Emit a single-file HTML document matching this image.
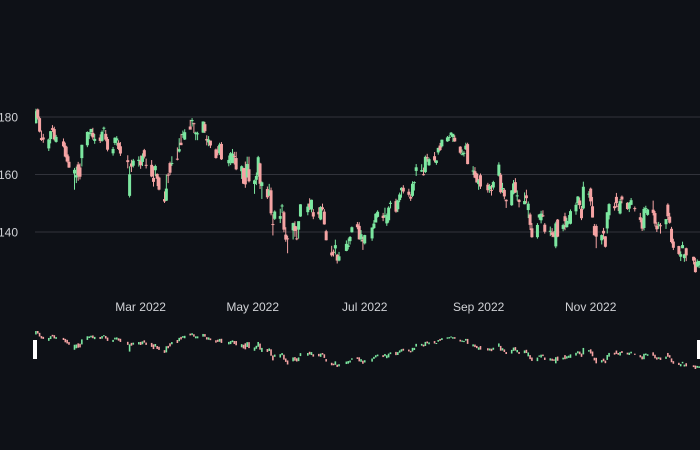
<!DOCTYPE html>
<html><head><meta charset="utf-8">
<style>
html,body{margin:0;padding:0;background:#0e1117;}
svg{display:block;font-family:"Liberation Sans",sans-serif;}
</style></head>
<body>
<svg id="chart" width="700" height="450" viewBox="0 0 700 450" xmlns="http://www.w3.org/2000/svg">
<rect x="0" y="0" width="700" height="450" fill="#0e1117"/>
<defs><clipPath id="plotclip"><rect x="35" y="95" width="665" height="200"/></clipPath></defs>
<g id="grid"></g>
<g id="yticks"></g>
<g id="xticks"></g>
<g id="candles" clip-path="url(#plotclip)"></g>
<g id="slider"></g>
</svg>
<script>
const holidays=["2022-01-17","2022-02-21","2022-04-15","2022-05-30","2022-06-20","2022-07-04","2022-09-05","2022-11-24","2022-12-26"];
const yTickValues=[140,160,180];
const xTickLabels=["Mar 2022","May 2022","Jul 2022","Sep 2022","Nov 2022"];
const xTickDates=["2022-03-01","2022-05-01","2022-07-01","2022-09-01","2022-11-01"];
const opens=[177.83,182.63,179.61,172.70,172.89,169.08,172.32,176.12,175.78,171.34,171.51,170.00,166.98,164.42,160.34,158.98,163.50,162.45,165.71,170.16,
174.01,174.75,174.48,171.68,172.86,171.73,176.05,174.14,172.33,167.37,170.97,171.85,171.03,169.82,164.98,152.58,163.84,163.06,164.70,
164.70,164.39,168.47,163.36,163.36,158.82,161.48,160.20,158.93,151.45,150.90,159.94,163.97,163.92,165.51,167.99,171.06,173.88,172.17,176.69,178.55,177.84,174.03,
174.03,174.57,177.50,172.36,171.16,171.78,168.71,168.02,167.39,170.62,163.92,165.02,163.92,166.46,165.72,161.12,162.25,162.19,158.97,161.84,
156.71,158.15,159.67,163.85,156.01,154.93,152.58,154.50,142.77,144.59,144.59,148.86,146.85,139.09,137.79,140.55,142.09,137.79,140.81,145.39,146.90,
149.90,147.83,146.90,147.03,144.35,148.58,147.08,140.28,132.87,133.13,134.29,132.08,130.07,133.42,134.79,136.82,139.90,142.70,142.13,137.46,137.25,
136.04,137.77,141.35,143.29,145.26,145.67,145.76,142.99,144.08,149.78,150.74,147.92,151.12,154.50,155.39,154.01,152.26,152.58,156.98,161.24,
161.01,160.10,160.84,166.01,163.21,166.37,164.02,167.68,170.06,169.82,171.52,172.78,173.75,173.03,172.78,169.69,167.08,167.32,168.78,170.57,161.15,161.14,160.31,
156.64,159.75,156.47,154.82,154.64,155.47,159.59,159.90,154.79,154.65,151.21,149.31,153.40,157.34,152.38,151.19,149.66,152.74,147.64,146.10,141.28,
138.21,145.03,144.07,145.81,142.54,140.42,139.90,139.13,134.99,144.31,141.07,145.49,141.69,143.02,142.87,147.19,150.09,150.96,148.07,148.20,153.16,
155.08,148.95,142.06,142.09,137.11,140.41,138.50,141.24,145.82,148.97,152.22,149.13,146.43,152.31,150.16,148.13,149.45,148.31,145.14,144.29,141.40,
148.21,145.96,147.77,146.59,142.19,142.36,142.34,142.70,149.50,145.35,141.11,136.69,135.11,131.39,134.35,130.92,134.35,131.38,129.67,127.99,128.41];
const highs=[182.88,182.94,180.17,175.30,174.14,172.50,175.18,177.18,176.62,173.78,172.54,171.08,169.68,166.33,162.30,162.76,164.39,163.84,170.35,175.00,
174.84,175.88,176.24,174.10,173.95,175.35,176.65,175.48,173.08,169.58,172.95,173.34,171.91,171.27,166.69,162.85,165.12,165.42,166.33,
166.60,167.36,168.91,165.55,165.02,162.88,163.41,160.39,159.28,154.12,160.00,160.54,164.48,166.35,169.42,172.64,174.14,175.28,175.73,179.01,179.61,178.03,174.88,
174.88,178.49,178.30,173.63,173.36,171.78,169.03,169.87,171.04,171.27,166.60,167.82,168.88,167.87,167.89,163.17,162.34,164.50,166.20,166.20,
158.23,160.71,166.48,164.08,157.56,155.83,156.74,155.45,146.20,147.52,148.10,149.77,147.36,141.66,138.70,143.26,143.71,141.97,143.26,149.68,149.87,
151.74,151.27,147.97,148.57,149.00,149.87,147.95,140.76,135.20,133.89,137.34,132.39,133.08,137.06,137.76,138.59,141.91,143.49,143.42,140.67,138.37,
139.04,141.61,144.12,146.55,147.55,146.64,148.45,146.45,148.95,150.86,151.57,151.23,153.72,155.57,156.28,155.04,153.09,157.64,157.64,163.63,
163.59,162.41,166.59,167.19,165.85,167.81,164.94,169.34,170.99,172.17,173.39,173.71,174.76,173.74,173.64,169.86,168.71,168.11,171.05,171.05,162.90,162.56,160.58,
158.42,160.36,157.09,156.67,156.36,157.82,164.26,160.54,157.10,155.24,151.35,154.56,158.08,158.74,154.47,151.47,153.77,154.72,150.64,146.72,143.10,
143.07,146.22,147.38,147.54,143.10,141.89,141.35,140.36,143.59,144.52,142.90,146.70,144.95,145.89,147.85,150.23,152.49,151.99,149.05,157.50,154.24,
155.45,152.17,142.80,142.67,139.15,141.43,138.55,146.87,150.01,150.28,153.59,149.87,151.48,152.70,150.37,150.42,151.83,148.88,146.64,144.81,148.72,
149.13,148.00,150.92,147.30,143.37,143.52,143.10,144.50,149.97,146.66,141.79,137.65,135.20,133.25,136.63,132.42,134.56,131.41,131.03,130.48,129.95];
const lows=[177.71,179.12,174.64,171.64,171.03,168.17,170.82,174.82,171.79,171.09,169.41,165.94,164.18,162.30,154.70,157.02,157.82,158.28,162.80,169.51,
172.31,173.33,172.12,170.68,170.95,171.43,174.90,171.55,168.04,166.56,170.25,170.05,168.47,166.46,162.15,152.00,160.87,162.43,162.74,
161.97,162.95,165.55,162.10,159.04,155.80,159.41,155.98,154.50,150.10,150.80,157.02,159.76,163.01,164.91,167.65,170.21,172.75,172.00,176.34,176.70,174.40,171.94,
171.94,174.44,174.42,170.13,169.85,169.20,165.50,166.64,166.77,165.04,162.86,163.28,166.10,163.46,161.50,158.46,156.72,155.38,158.93,157.25,
153.27,156.32,159.26,154.95,151.49,151.49,152.93,145.81,138.80,144.18,143.11,146.68,139.90,136.60,132.61,137.40,138.34,137.14,137.70,145.26,145.82,
147.68,146.86,144.46,144.90,144.10,147.46,142.53,137.06,131.44,131.48,132.16,129.04,129.81,133.32,133.91,135.63,139.77,140.97,137.32,136.67,133.77,
135.66,136.93,141.08,143.28,145.00,143.78,145.05,142.12,143.25,148.20,146.70,146.91,150.37,151.94,153.41,152.28,150.80,152.16,154.41,159.50,
160.89,159.63,160.48,164.43,163.00,164.20,163.38,166.90,168.19,169.40,171.35,171.66,173.12,171.31,171.34,167.14,166.65,166.25,168.55,163.56,159.82,158.72,157.14,
154.67,154.97,153.69,153.61,152.68,154.75,159.30,153.37,153.61,151.38,148.37,149.10,153.08,153.60,150.91,148.56,149.64,149.95,144.84,140.68,138.00,
137.69,144.26,143.01,145.22,139.45,138.57,138.22,138.16,134.37,138.19,140.27,140.61,141.50,142.65,142.65,146.00,149.36,148.04,144.13,147.82,151.92,
149.13,145.00,138.75,134.38,135.67,137.49,134.59,139.50,144.37,147.43,148.56,147.29,146.15,149.97,147.72,146.93,149.34,147.12,143.38,140.35,140.55,
146.61,145.65,145.77,141.92,140.01,141.10,139.45,141.06,144.24,142.90,136.03,133.73,131.92,129.89,134.37,129.64,129.87,128.72,125.87,127.73,127.43];
const closes=[182.01,179.70,174.92,172.00,172.17,172.19,175.08,175.53,172.19,173.07,169.80,166.23,164.51,162.41,161.62,159.78,159.69,159.22,170.33,174.78,
174.61,175.84,172.90,172.39,171.66,174.83,176.28,172.12,168.64,168.88,172.79,172.55,168.88,167.30,164.32,160.07,162.74,164.85,165.12,
163.20,166.56,166.23,163.17,159.30,157.44,162.95,158.52,154.73,150.62,155.09,159.59,160.62,163.98,165.38,168.82,170.21,174.07,174.72,175.60,178.96,177.77,174.61,
174.31,178.44,175.06,171.83,172.14,170.09,165.75,167.66,170.40,165.29,165.07,167.40,167.23,166.42,161.79,162.88,156.80,156.57,163.64,157.65,
157.96,159.48,166.02,156.77,157.28,152.06,154.51,146.50,142.56,147.11,145.54,149.24,140.82,137.35,137.59,143.11,140.36,137.59,143.78,149.64,148.84,
148.71,151.21,145.38,146.14,148.71,147.96,142.64,137.13,131.88,132.76,135.43,130.06,131.56,135.87,135.35,138.27,141.66,141.66,137.44,139.23,136.72,
138.93,141.56,142.92,146.35,147.04,144.87,145.86,145.49,148.47,150.17,147.07,151.00,153.04,155.35,154.09,152.95,151.60,156.79,157.35,162.51,
161.51,160.01,166.13,165.81,165.35,164.87,164.92,169.24,168.49,172.10,172.90,173.03,174.55,174.15,171.52,167.57,167.23,167.53,170.03,163.62,161.38,158.91,157.22,
157.96,155.81,154.53,155.96,154.46,157.37,163.43,153.84,155.31,152.37,150.70,154.48,156.90,153.72,152.74,150.43,150.77,151.76,149.84,142.48,138.20,
142.45,146.10,146.40,145.43,140.09,140.42,138.98,138.34,142.99,138.38,142.41,143.75,143.86,143.39,147.27,149.45,152.34,149.35,144.80,155.74,153.34,
150.65,145.03,138.88,138.38,138.92,139.50,134.87,146.87,149.70,148.28,150.04,148.79,150.72,151.29,148.01,150.18,151.07,148.11,144.22,141.17,148.03,
148.31,147.81,146.63,142.91,140.94,142.65,142.16,144.49,145.47,143.21,136.50,134.51,132.37,132.30,135.45,132.23,131.86,130.03,126.04,129.61,129.93];

const NS="http://www.w3.org/2000/svg";
function mk(tag,attrs,parent){const e=document.createElementNS(NS,tag);for(const k in attrs)e.setAttribute(k,attrs[k]);parent.appendChild(e);return e;}
const DAY=86400000, T0=Date.UTC(2022,0,1);
function dayIndex(s){const p=s.split('-');return (Date.UTC(+p[0],+p[1]-1,+p[2])-T0)/DAY;}
// trading days
const dates=[];
for(let d=0; dates.length<closes.length && d<400; d++){
  const t=new Date(T0+d*DAY);const wd=t.getUTCDay();
  const s=t.toISOString().slice(0,10);
  if(wd===0||wd===6||holidays.includes(s))continue;
  dates.push(d);
}
const X0=1.5,X1=363.5;
function x(d){return 35+(d-X0)/(X1-X0)*665;}
function y(v){return 117+(180-v)*2.875;}
const minLow=Math.min(...lows),maxHigh=Math.max(...highs);
function ys(v){return 331+(maxHigh-v)/(maxHigh-minLow)*38;}

const grid=document.getElementById('grid'),yt=document.getElementById('yticks'),xt=document.getElementById('xticks');
yTickValues.forEach(v=>{
  const l=mk('line',{x1:35,x2:700,y1:y(v),y2:y(v),stroke:'#31333b','stroke-width':1},grid);
  
  
  const t=mk('text',{x:18,y:y(v)+4.5,'text-anchor':'end',fill:'#d0d2d6','font-size':12},yt);
  t.textContent=v;
  
  
});
xTickDates.forEach((s,i)=>{
  const t=mk('text',{x:x(dayIndex(s)),y:311,'text-anchor':'middle',fill:'#d0d2d6','font-size':12},xt);
  t.textContent=xTickLabels[i];
  
  
});
const cg=document.getElementById('candles'),sg=document.getElementById('slider');
const UP='#7ce7a0',DN='#f5a3a3';
const n=Math.min(dates.length,opens.length,highs.length,lows.length,closes.length);
for(let i=0;i<n;i++){
  const o=opens[i],h=highs[i],l=lows[i],c=closes[i];
  const col=c>=o?UP:DN;const cx=x(dates[i]);
  const g=mk('g',{},cg);
  
  
  mk('line',{x1:cx,x2:cx,y1:y(h),y2:y(l),stroke:col,'stroke-width':1},g);
  const top=y(Math.max(o,c)),bh=Math.max(1,Math.abs(y(o)-y(c)));
  mk('rect',{x:cx-1.5,y:top,width:3,height:bh,fill:col},g);
  const m=mk('line',{x1:cx,x2:cx,y1:ys(h),y2:ys(l),stroke:col,'stroke-width':1.6},sg);
  
  
}
const h1=mk('rect',{x:33,y:340,width:4,height:19,fill:'#ffffff'},sg);


const h2=mk('rect',{x:697,y:340,width:4,height:19,fill:'#ffffff'},sg);


</script>
</body></html>
